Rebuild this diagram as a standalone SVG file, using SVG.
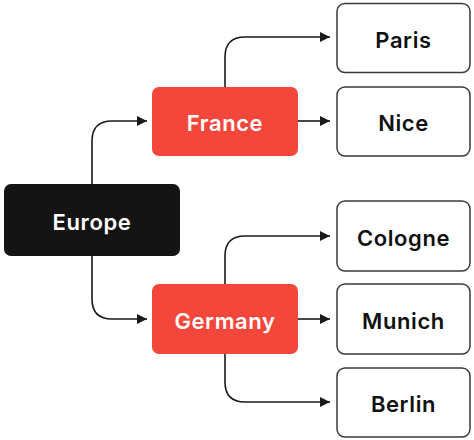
<svg xmlns="http://www.w3.org/2000/svg" width="474" height="440" viewBox="0 0 474 440">
<defs>
<marker id="ah" viewBox="0 0 10 10" refX="10" refY="5" markerWidth="10" markerHeight="10" markerUnits="userSpaceOnUse" orient="auto">
<path d="M0,0 L10,5 L0,10 Z" fill="#1a1a1a"/>
</marker>
<style>
.conn{fill:none;stroke:#1a1a1a;stroke-width:1.6;marker-end:url(#ah)}
.root{fill:#141414}
.mid{fill:#f4473b}
.leaf{fill:#ffffff;stroke:#3a3a3a;stroke-width:1.5}
.t{font-family:Inter,"Noto Sans","DejaVu Sans",sans-serif;font-weight:600;font-size:22px;letter-spacing:0.6px;text-anchor:middle;dominant-baseline:central}
.tw{fill:#ffffff}
.tb{fill:#111111}
</style>
</defs>
<rect width="474" height="440" fill="#ffffff"/>
<g id="connectors">
<path class="conn" d="M92,184 V141 Q92,121 112,121 H147"/>
<path class="conn" d="M92,256 V299 Q92,319 112,319 H147"/>
<path class="conn" d="M225,87 V57 Q225,37 245,37 H330"/>
<path class="conn" d="M298,121 H330"/>
<path class="conn" d="M225,284 V256 Q225,236 245,236 H330"/>
<path class="conn" d="M298,319 H330"/>
<path class="conn" d="M225,354 V382 Q225,402 245,402 H330"/>
</g>
<g id="europe">
<rect class="root" x="4" y="184" width="176" height="72" rx="7"/>
<text class="t tw" x="92" y="222">Europe</text>
</g>
<g id="france">
<rect class="mid" x="152" y="87" width="146" height="69" rx="7"/>
<text class="t tw" x="225" y="123">France</text>
</g>
<g id="germany">
<rect class="mid" x="152" y="284" width="146" height="70" rx="7"/>
<text class="t tw" x="225" y="321">Germany</text>
</g>
<g id="paris">
<rect class="leaf" x="337" y="3.5" width="133" height="69" rx="8"/>
<text class="t tb" x="403.5" y="40">Paris</text>
</g>
<g id="nice">
<rect class="leaf" x="337" y="87" width="133" height="69" rx="8"/>
<text class="t tb" x="403.5" y="123">Nice</text>
</g>
<g id="cologne">
<rect class="leaf" x="337" y="201" width="133" height="70" rx="8"/>
<text class="t tb" x="403.5" y="238">Cologne</text>
</g>
<g id="munich">
<rect class="leaf" x="337" y="284" width="133" height="70" rx="8"/>
<text class="t tb" x="403.5" y="321">Munich</text>
</g>
<g id="berlin">
<rect class="leaf" x="337" y="368" width="133" height="69" rx="8"/>
<text class="t tb" x="403.5" y="404">Berlin</text>
</g>
</svg>
